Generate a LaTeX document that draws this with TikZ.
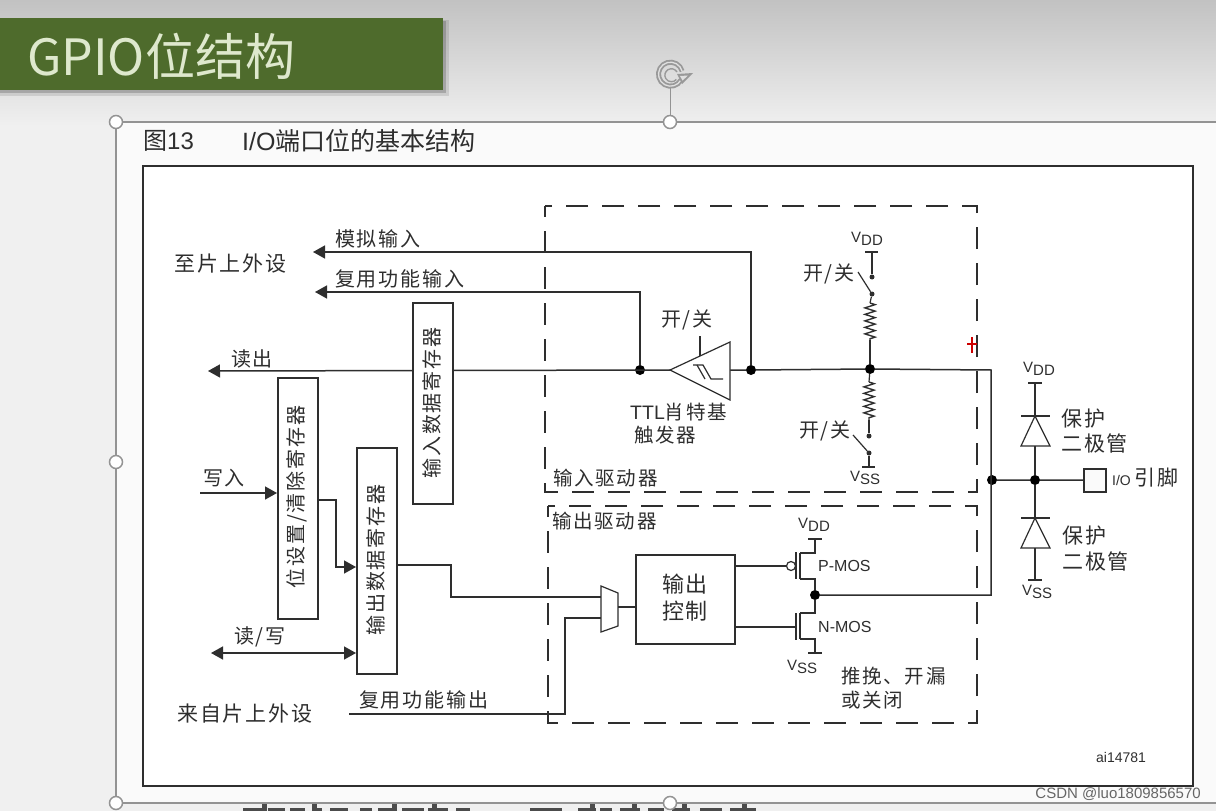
\documentclass[tikz,border=0pt]{standalone}
\usepackage{fontspec}
\setmainfont{Liberation Sans}
\newfontfamily\cjk[LetterSpace=9]{Noto Sans CJK SC}
\newfontfamily\cjkplain{Noto Sans CJK SC}
\usetikzlibrary{arrows.meta,decorations.pathmorphing}
\definecolor{ink}{HTML}{2E2E2E}
\tikzset{
  wire/.style={draw=ink,line width=1.5pt},
  thin wire/.style={draw=ink,line width=1.2pt},
  tip/.style={-{Triangle[length=12pt,width=13pt]}},
  dtip/.style={{Triangle[length=12pt,width=13pt]}-{Triangle[length=12pt,width=13pt]}},
  lab/.style={text=ink,font=\fontsize{20}{23}\selectfont\cjk,inner sep=0pt},
  labs/.style={text=ink,font=\fontsize{19.5}{22}\selectfont\cjk,inner sep=0pt},
  labb/.style={text=ink,font=\fontsize{21}{24}\selectfont\cjk,inner sep=0pt},
  rail/.style={text=ink,font=\fontsize{15}{17}\selectfont,inner sep=0pt},
  regbox/.style={draw=ink,line width=1.6pt,fill=white},
  dashbox/.style={draw=ink,line width=1.5pt,dash pattern=on 22pt off 14pt,dash phase=11pt},
  junction/.style={circle,fill=black,draw=none,minimum size=10pt,inner sep=0pt},
  smalldot/.style={circle,fill=ink,draw=none,minimum size=5pt,inner sep=0pt},
  handle/.style={circle,draw=gray!85,line width=1.5pt,fill=white,minimum size=13pt,inner sep=0pt},
  coil/.style={draw=ink,line width=1.4pt,decorate,decoration={zigzag,segment length=6.5pt,amplitude=5pt}},
}
\begin{document}
\begin{tikzpicture}[x=1pt,y=-1pt]
\useasboundingbox (0,0) rectangle (1216,811);
% slide background
\fill[top color=black!24,bottom color=black!6] (0,0) rectangle (1216,125);
\fill[black!6] (0,125) rectangle (1216,811);
\fill[white!98!black] (116,122) rectangle (1216,803);
% fragments of the clipped line of text under the slide frame
\begin{scope}
\clip (200,804) rectangle (800,811);
\foreach \xa/\xb in {243/262,268/285,290/305,312/322,330/348,360/372,378/394,402/424,428/448,456/470,530/562,578/596,600/612,620/640,648/664,672/690,700/722,730/756}
  \fill[black!70] (\xa,808) rectangle (\xb,811);
\foreach \xc in {262,312,392,432,590,632,682,742}
  \fill[black!70] (\xc,804) rectangle (\xc+5,811);
\end{scope}
\draw[gray!85,line width=1.2pt] (1216,122) -- (116,122) -- (116,803) -- (1216,803);
% title bar
\fill[black,opacity=.10] (0,20) rectangle (449,96);
\fill[black,opacity=.18] (0,21) rectangle (446,93);
\node[fill={rgb,255:red,78;green,107;blue,44},minimum width=443pt,minimum height=72pt,anchor=north west,inner sep=0pt] (titlebar) at (0,18) {};
\node[anchor=west,text={rgb,255:red,222;green,232;blue,205},font=\fontsize{50}{54}\selectfont\cjkplain,inner sep=0pt] (title) at (27,56) {GPIO位结构};
% selection handles
\node[handle] (h1) at (116,122) {};
\node[handle] (h2) at (670,122) {};
\node[handle] (h3) at (116,462) {};
\node[handle] (h4) at (116,803) {};
\node[handle] (h5) at (670,803) {};
\draw[gray!85,line width=1pt] (h2) -- (670,87);
% rotate icon
\draw[gray!80,line width=5pt] (681,80) arc (29:345:12 and 12);
\draw[black!12,line width=1.3pt] (681,80) arc (29:345:12 and 12);
\draw[gray!80,line width=1.4pt] (677,72) arc (-30:-320:6.5);
\fill[gray!80] (693,73) -- (677,74) -- (682,84) -- cycle;
\fill[black!12] (688,75.5) -- (680,76) -- (682.5,80.5) -- cycle;
% caption
\node[anchor=west,text=ink,font=\fontsize{24}{26}\selectfont,inner sep=0pt] (cap1) at (143,141) {{\cjkplain 图}13};
\node[anchor=west,text=ink,font=\fontsize{25}{27}\selectfont,inner sep=0pt] (cap2) at (242,141) {I/O{\cjkplain 端口位的基本结构}};
% frame
\node[draw=ink,line width=1.8pt,fill=white,minimum width=1050pt,minimum height=620pt,anchor=north west,inner sep=0pt] (frame) at (142,165) {};
% dashed boxes
\draw[dashbox] (545,206) rectangle (977,492);
\draw[dashbox] (548,506) rectangle (977,723);
% coordinates
\node[junction] (j1) at (640,370) {};
\node[junction] (j2) at (751,370) {};
\node[junction] (j3) at (870,369) {};
\node[junction] (j4) at (992,480) {};
\node[junction] (j5) at (1035,480) {};
\node[junction] (j6) at (815,595) {};
\coordinate (readtip) at (208,371);
\coordinate (anatip) at (313,252);
\coordinate (alttip) at (315,292);
\coordinate (corner) at (991,370);
% wires upper
\draw[wire,tip] (j2) |- (anatip);
\draw[wire,tip] (j1) |- (alttip);
\draw[wire,tip] (670,370) -- (readtip);
\draw[wire] (j3) -- (corner) -- (991,595) -- (j6);
\draw[wire] (730,370) -- (j2) -- (j3);
% registers
\node[regbox,minimum width=40pt,minimum height=201pt,anchor=north west,inner sep=0pt] (inreg) at (412,302) {};
\node[lab,rotate=90] at (432,403) {输入数据寄存器};
\node[regbox,minimum width=40pt,minimum height=241pt,anchor=north west,inner sep=0pt] (setreg) at (277,377) {};
\node[lab,rotate=90] at (297,497) {位设置/清除寄存器};
\node[regbox,minimum width=40pt,minimum height=226pt,anchor=north west,inner sep=0pt] (outreg) at (356,447) {};
\node[lab,rotate=90] at (376,560) {输出数据寄存器};
% register arrows
\coordinate (wrstart) at (200,493);
\coordinate (rwstart) at (211,653);
\draw[wire,tip] (wrstart) -- (wrstart -| setreg.west);
\draw[wire,tip] (317,500) -- (336,500) -- (336,567) -- (356,567);
\draw[wire,dtip] (rwstart) -- (rwstart -| outreg.west);
% mux and control
\coordinate (m1) at (601,586);\coordinate (m2) at (618,593);\coordinate (m3) at (618,626);\coordinate (m4) at (601,632);
\draw[thin wire,fill=white] (m1) -- (m2) -- (m3) -- (m4) -- cycle;
\node[draw=ink,line width=1.6pt,minimum width=99pt,minimum height=89pt,anchor=north west,inner sep=0pt] (ctrl) at (635,554) {};
\draw[wire] (396,565) -- (451,565) -- (451,597) -- (601,597);
\draw[wire] (349,714) -- (565,714) -- (565,618) -- (601,618);
\draw[wire] (618,607) -- (635,607);
\node[text=ink,font=\fontsize{22}{24}\selectfont\cjk,inner sep=0pt] at (685,584) {输出};
\node[text=ink,font=\fontsize{22}{24}\selectfont\cjk,inner sep=0pt] at (685,611) {控制};
% Schmitt trigger
\draw[thin wire,fill=white] (670,370) -- (730,342) -- (730,400) -- cycle;
\draw[thin wire] (700,336) -- (700,356);
\draw[thin wire] (693,365) -- (703,365) -- (711,379) -- (723,379);
\draw[thin wire] (697,365) -- (705,379);
% pull-up
\node[smalldot] (s1) at (872,277) {};
\node[smalldot] (s2) at (872,294) {};
\draw[thin wire] (865,252) -- (878,252);
\draw[thin wire] (872,252) -- (s1);
\draw[thin wire] (858,272) -- (s2);
\draw[thin wire] (s2) -- (870,303);
\draw[coil] (870,303) -- (870,340);
\draw[thin wire] (870,340) -- (j3);
% pull-down
\node[smalldot] (s3) at (869,436) {};
\node[smalldot] (s4) at (869,453) {};
\draw[thin wire] (j3) -- (869,382);
\draw[coil] (869,382) -- (869,420);
\draw[thin wire] (869,420) -- (s3);
\draw[thin wire] (853,435) -- (s4);
\draw[thin wire] (s4) -- (869,467);
\draw[thin wire] (862,467) -- (875,467);
% MOS
\draw[thin wire] (735,566) -- (786,566);
\draw[thin wire,fill=white] (791,566) circle (4.5);
\draw[wire] (796,552) -- (796,579);
\draw[wire] (800,553) -- (800,579);
\draw[wire] (800,553) -- (815,553) -- (815,539);
\draw[wire] (808,539) -- (822,539);
\draw[wire] (800,579) -- (815,579) -- (j6);
\draw[wire] (j6) -- (815,613) -- (800,613);
\draw[wire] (735,627) -- (796,627);
\draw[wire] (796,613) -- (796,640);
\draw[wire] (800,613) -- (800,639);
\draw[wire] (800,639) -- (815,639) -- (815,653);
\draw[wire] (808,653) -- (822,653);
% protection diodes
\draw[wire] (1028,383) -- (1042,383);
\draw[wire] (1035,383) -- (1035,416);
\draw[wire] (1021,416) -- (1050,416);
\draw[thin wire] (1035,416) -- (1050,446) -- (1021,446) -- cycle;
\draw[wire] (1035,446) -- (j5);
\draw[wire] (j5) -- (1035,518);
\draw[wire] (1021,518) -- (1050,518);
\draw[thin wire] (1035,518) -- (1050,548) -- (1021,548) -- cycle;
\draw[wire] (1035,548) -- (1035,580);
\draw[wire] (1028,580) -- (1042,580);
\node[draw=ink,line width=1.6pt,minimum width=22pt,minimum height=23pt,anchor=north west,inner sep=0pt,fill=white!98!black] (pin) at (1083,468) {};
\draw[wire] (j4) -- (j5) -- (pin);
% labels
\node[labb,anchor=west] at (174,264) {至片上外设};
\node[labb,anchor=west] at (177,714) {来自片上外设};
\node[lab,anchor=west] at (335,239) {模拟输入};
\node[lab,anchor=west] at (335,279) {复用功能输入};
\node[lab,anchor=west] at (231,359) {读出};
\node[lab,anchor=west] at (203,478) {写入};
\node[lab,anchor=west] at (234,637) {读/写};
\node[lab,anchor=west] at (359,700) {复用功能输出};
\node[lab,anchor=west] at (661,320) {开/关};
\node[lab,anchor=west] at (803,274) {开/关};
\node[lab,anchor=west] at (799,431) {开/关};
\node[labs,anchor=west] at (630,412) {\fontspec{Liberation Sans}TTL\cjk 肖特基};
\node[labs,anchor=west] at (634,435) {触发器};
\node[labs,anchor=west] at (553,478) {输入驱动器};
\node[labs,anchor=west] at (552,521) {输出驱动器};
\node[labs,anchor=west] at (841,676) {推挽、开漏};
\node[labs,anchor=west] at (841,700) {或关闭};
\node[labb,anchor=west] at (1061,419) {保护};
\node[labb,anchor=west] at (1061,443) {二极管};
\node[labb,anchor=west] at (1062,536) {保护};
\node[labb,anchor=west] at (1062,561) {二极管};
\node[labs,anchor=west] at (1112,478) {\fontsize{14}{16}\fontspec{Liberation Sans}I/O\ \fontsize{21}{23}\cjk 引脚};
\node[rail,anchor=west] at (851,239) {V\raisebox{-3pt}{DD}};
\node[rail,anchor=west] at (850,478) {V\raisebox{-3pt}{SS}};
\node[rail,anchor=west] at (798,525) {V\raisebox{-3pt}{DD}};
\node[rail,anchor=west] at (787,667) {V\raisebox{-3pt}{SS}};
\node[rail,anchor=west] at (1023,369) {V\raisebox{-3pt}{DD}};
\node[rail,anchor=west] at (1022,592) {V\raisebox{-3pt}{SS}};
\node[rail,font=\fontsize{16}{18}\selectfont,anchor=west] at (818,566) {P-MOS};
\node[rail,font=\fontsize{16}{18}\selectfont,anchor=west] at (818,627) {N-MOS};
\node[text=ink,font=\fontsize{14}{16}\selectfont,anchor=west,inner sep=0pt] at (1096,757) {ai14781};
% cursor mark
\draw[red!80!black,line width=1.2pt] (967,344) -- (977,344) (972,337) -- (972,353);
% watermark
\node[text=black!60,font=\fontsize{15}{17}\selectfont,anchor=east,inner sep=0pt] at (1201,794) {CSDN @luo1809856570};
\end{tikzpicture}
\end{document}
